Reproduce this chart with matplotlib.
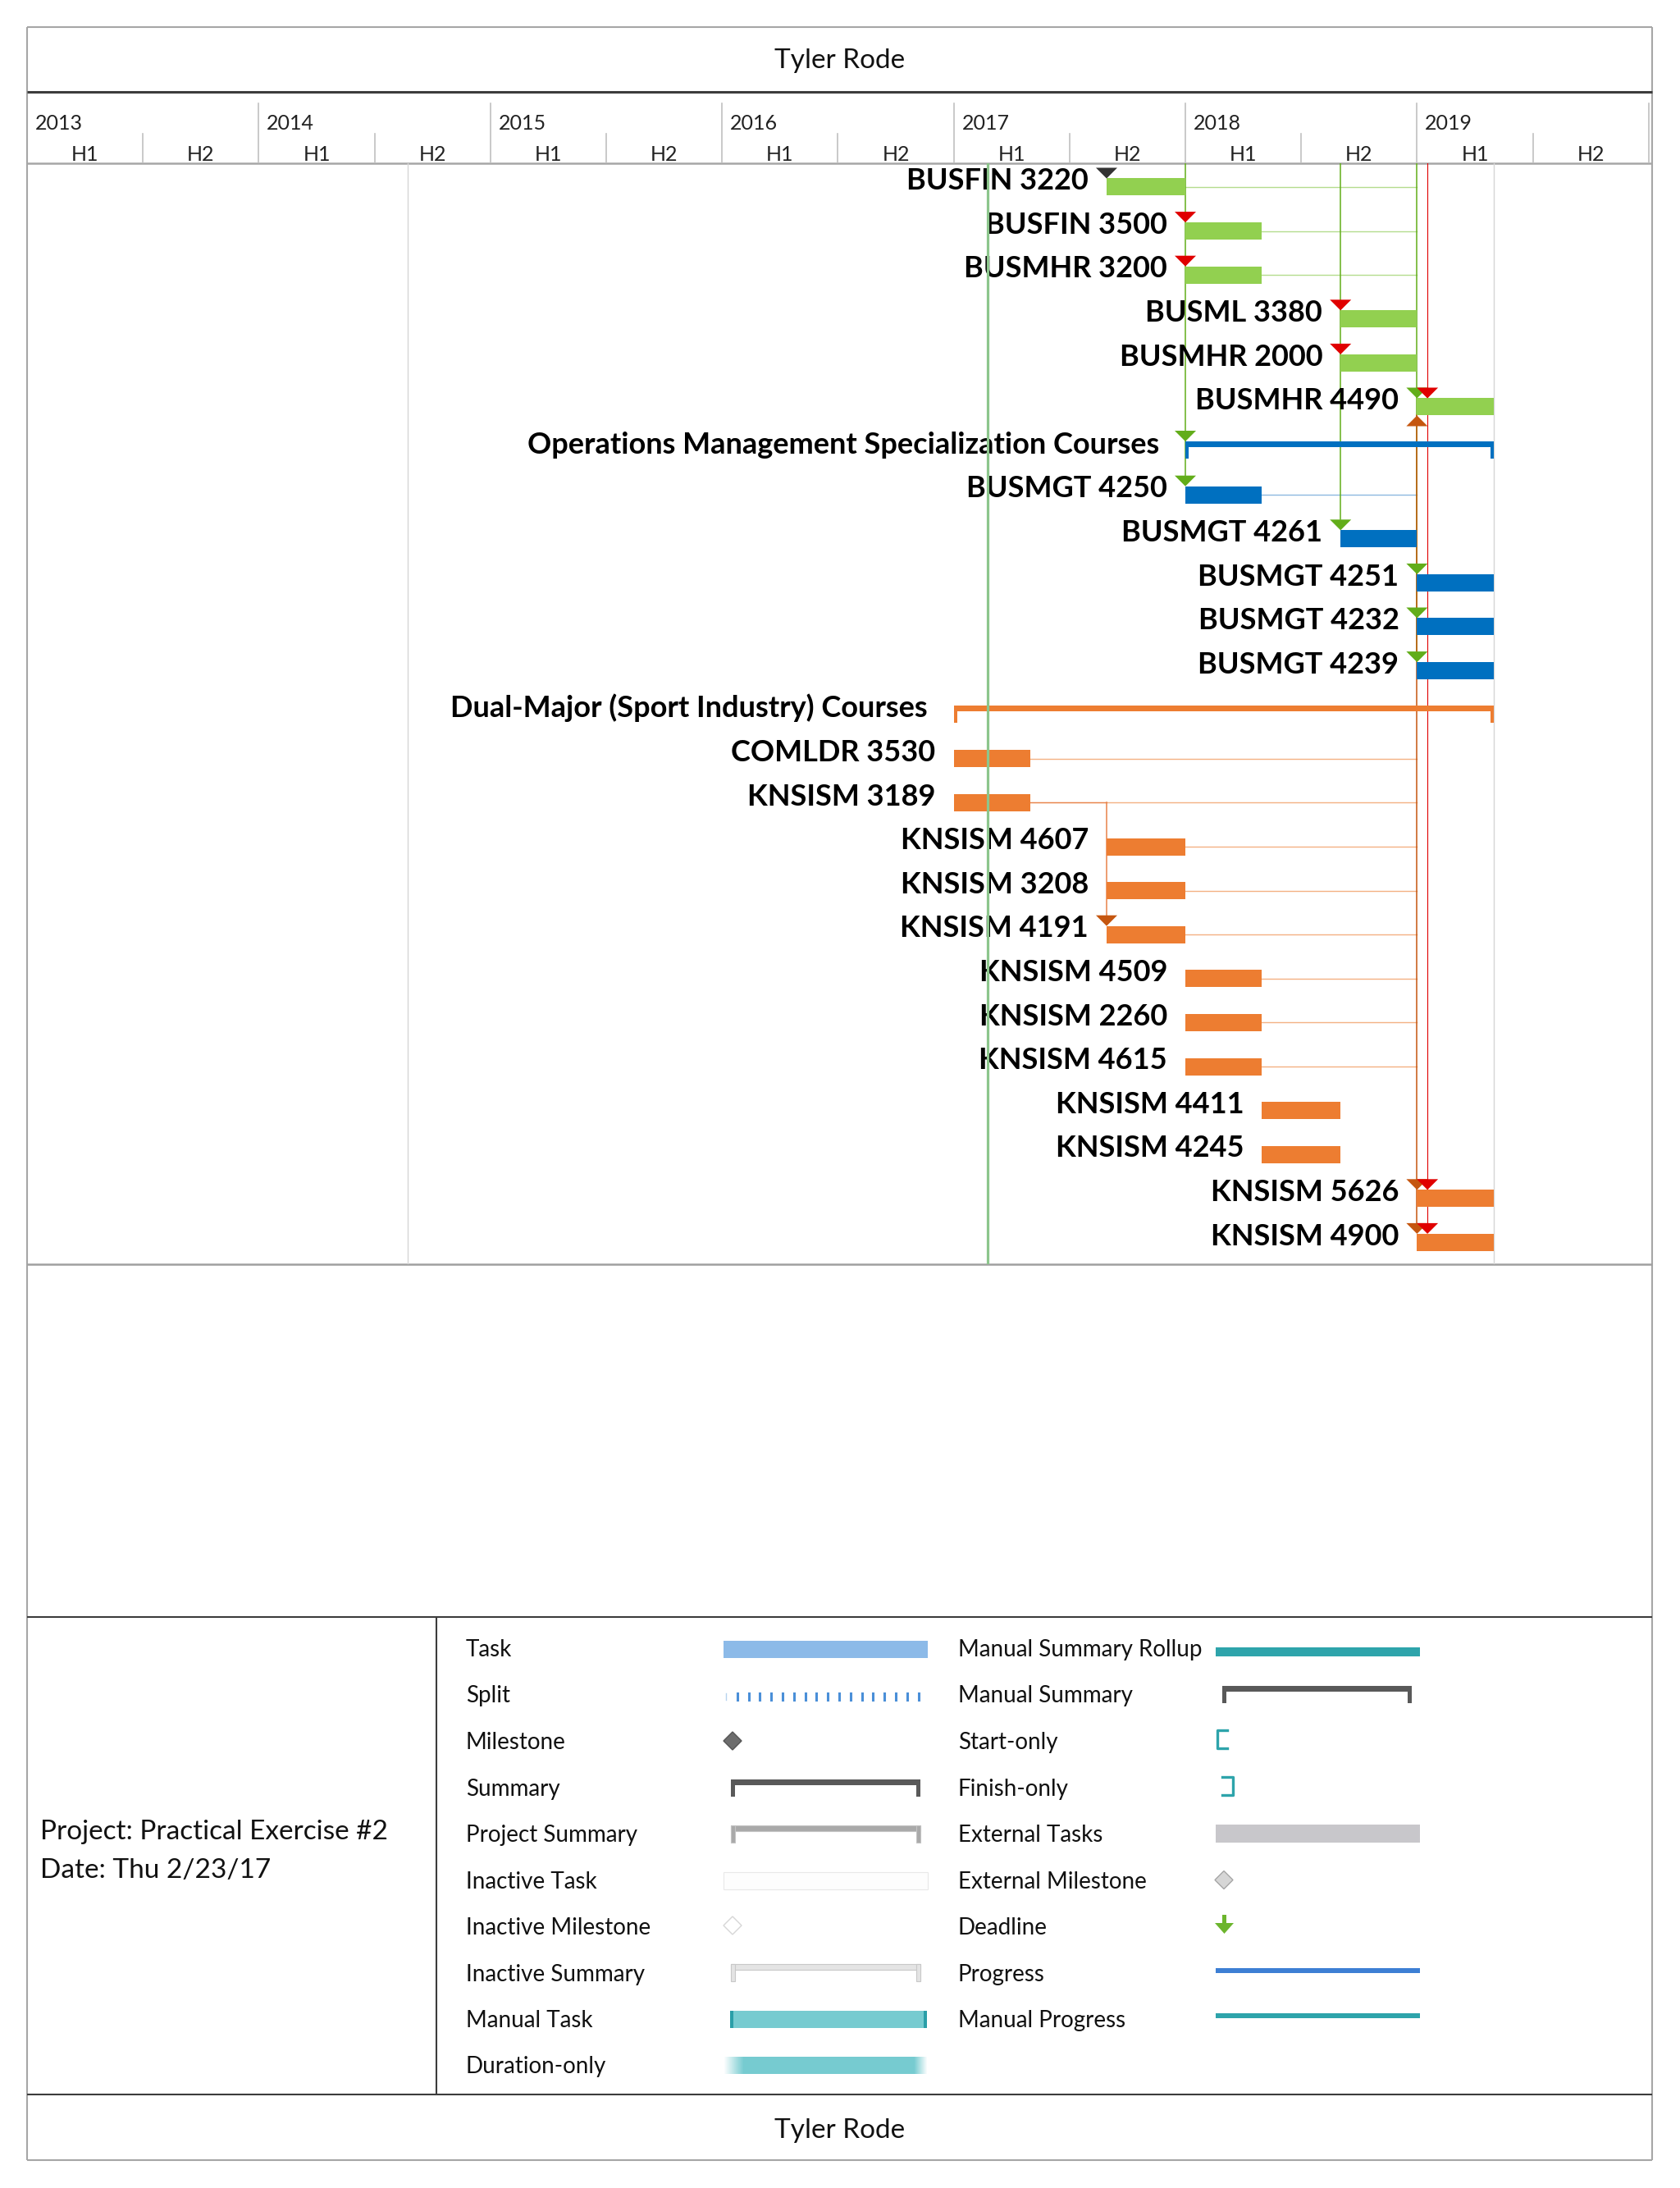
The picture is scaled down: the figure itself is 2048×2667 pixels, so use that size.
import matplotlib
matplotlib.use('Agg')
import matplotlib.pyplot as plt
from matplotlib.patches import Rectangle, Polygon
import numpy as np

plt.rcParams['font.family'] = ['Lato', 'DejaVu Sans']

### data
owner = 'Tyler Rode'
project_txt = 'Project: Practical Exercise #2'
date_txt = 'Date: Thu 2/23/17'
status_date = 2017.145

years = [2013, 2014, 2015, 2016, 2017, 2018, 2019]
halves = ['H1', 'H2']

tasks = ['BUSFIN 3220', 'BUSFIN 3500', 'BUSMHR 3200', 'BUSML 3380', 'BUSMHR 2000', 'BUSMHR 4490',
         'Operations Management Specialization Courses',
         'BUSMGT 4250', 'BUSMGT 4261', 'BUSMGT 4251', 'BUSMGT 4232', 'BUSMGT 4239',
         'Dual-Major (Sport Industry) Courses',
         'COMLDR 3530', 'KNSISM 3189', 'KNSISM 4607', 'KNSISM 3208', 'KNSISM 4191',
         'KNSISM 4509', 'KNSISM 2260', 'KNSISM 4615', 'KNSISM 4411', 'KNSISM 4245',
         'KNSISM 5626', 'KNSISM 4900']
start = [2017.66, 2018.0, 2018.0, 2018.67, 2018.67, 2019.0,
         2018.0, 2018.0, 2018.67, 2019.0, 2019.0, 2019.0,
         2017.0, 2017.0, 2017.0, 2017.66, 2017.66, 2017.66,
         2018.0, 2018.0, 2018.0, 2018.33, 2018.33, 2019.0, 2019.0]
finish = [2018.0, 2018.33, 2018.33, 2019.0, 2019.0, 2019.33,
          2019.33, 2018.33, 2019.0, 2019.33, 2019.33, 2019.33,
          2019.33, 2017.33, 2017.33, 2018.0, 2018.0, 2018.0,
          2018.33, 2018.33, 2018.33, 2018.67, 2018.67, 2019.33, 2019.33]
group = ['bus'] * 6 + ['ops'] * 6 + ['kns'] * 13
summary_rows = [6, 12]

# link lines (bar end -> 2019.0)
link_rows = [0, 1, 2, 7, 13, 14, 15, 16, 17, 18, 19, 20]
link_end = 2019.0

# vertical connector lines
conn_x = [2018.0, 2018.67, 2019.0, 2019.0, 2019.045, 2017.66]
conn_from = [None, None, None, 5, None, 14]
conn_to = [7, 8, 11, 24, 24, 17]
conn_col = ['green', 'green', 'green', 'dkorange', 'red', 'orange']

# link arrowheads
arrow_row = [0, 1, 2, 3, 4, 5, 5, 6, 7, 8, 9, 10, 11, 17, 23, 23, 24, 24]
arrow_x = [2017.66, 2018.0, 2018.0, 2018.67, 2018.67, 2019.0, 2019.045, 2018.0, 2018.0, 2018.67,
           2019.0, 2019.0, 2019.0, 2017.66, 2019.0, 2019.045, 2019.0, 2019.045]
arrow_col = ['black', 'red', 'red', 'red', 'red', 'green', 'red', 'green', 'green', 'green',
             'green', 'green', 'green', 'dkorange', 'dkorange', 'red', 'dkorange', 'red']

legend_left = ['Task', 'Split', 'Milestone', 'Summary', 'Project Summary', 'Inactive Task',
               'Inactive Milestone', 'Inactive Summary', 'Manual Task', 'Duration-only']
legend_right = ['Manual Summary Rollup', 'Manual Summary', 'Start-only', 'Finish-only',
                'External Tasks', 'External Milestone', 'Deadline', 'Progress', 'Manual Progress']

### styles
bar_col = {'bus': '#92d050', 'ops': '#0070c0', 'kns': '#ed7d31'}
link_col = {'bus': '#b4dc8e', 'ops': '#8db8e0', 'kns': '#f4b183'}
mark_col = {'green': '#62ad1a', 'red': '#e00000', 'black': '#333333',
            'dkorange': '#c5560f', 'orange': '#e8834a'}

W, H = 2048, 2667
fig = plt.figure(figsize=(W / 100, H / 100), dpi=100)

bg = fig.add_axes([0, 0, 1, 1])
bg.set_xlim(0, W)
bg.set_ylim(H, 0)
bg.axis('off')

# chart geometry (pixels)
X0, X1 = 33, 2014
YEAR_PX = 282.4
TS_TOP, TS_BOT = 112, 199
CH_BOT = 1541
ROW0, PITCH = 228, 53.6

### frame
def hl(y, x0, x1, c, lw):
    bg.plot([x0, x1], [y, y], color=c, lw=lw, solid_capstyle='butt', zorder=3)

def vl(x, y0, y1, c, lw):
    bg.plot([x, x], [y0, y1], color=c, lw=lw, solid_capstyle='butt', zorder=3)

hl(33, X0, X1, '#a6a6a6', 1.5)
hl(2633, X0, X1, '#a6a6a6', 1.5)
vl(X0, 33, 2633, '#a6a6a6', 1.5)
vl(X1, 33, 2633, '#a6a6a6', 1.5)
hl(TS_TOP, X0, X1, '#3c3c3c', 2.2)
hl(TS_BOT, X0, X1, '#a6a6a6', 1.8)
hl(CH_BOT, X0, X1, '#a0a0a0', 1.8)
hl(1971, X0, X1, '#3c3c3c', 1.5)
hl(2553, X0, X1, '#3c3c3c', 1.5)
vl(532, 1971, 2553, '#3c3c3c', 1.5)

bg.text((X0 + X1) / 2, 74, owner, ha='center', va='center', fontsize=24, color='#111111')
bg.text((X0 + X1) / 2, 2597, owner, ha='center', va='center', fontsize=24, color='#111111')
bg.text(49, 2233, project_txt, ha='left', va='center', fontsize=24, color='#111111')
bg.text(49, 2280, date_txt, ha='left', va='center', fontsize=24, color='#111111')

### timescale
xmax = 2013 + (X1 - X0) / YEAR_PX
ts = fig.add_axes([X0 / W, 1 - TS_BOT / H, (X1 - X0) / W, (TS_BOT - TS_TOP) / H])
ts.set_xlim(2013, xmax)
ts.set_ylim(0, 1)
ts.axis('off')
for yr in years:
    ts.text(yr + 0.035, 0.56, str(yr), ha='left', va='center', fontsize=18, color='#222222')
    for k, h in enumerate(halves):
        ts.text(yr + 0.25 + 0.5 * k, 0.12, h, ha='center', va='center', fontsize=18, color='#222222')
    if yr > 2013:
        ts.plot([yr, yr], [0, 0.84], color='#c0c0c0', lw=1.2)
    ts.plot([yr + 0.5, yr + 0.5], [0, 0.41], color='#c0c0c0', lw=1.2)
ts.plot([years[-1] + 1] * 2, [0, 0.84], color='#c0c0c0', lw=1.2)

### gantt
ax = fig.add_axes([X0 / W, 1 - CH_BOT / H, (X1 - X0) / W, (CH_BOT - TS_BOT) / H])
ax.set_xlim(2013, xmax)
ax.set_ylim((CH_BOT - ROW0) / PITCH, (TS_BOT - ROW0) / PITCH)
ax.axis('off')
ytop = ax.get_ylim()[1]

bh = 21 / PITCH          # bar height in rows
tw = 13 / YEAR_PX        # arrow half width
th = 13 / PITCH          # arrow height

# faint page lines
for x in [2014.643, 2019.33]:
    ax.plot([x, x], [ytop, ax.get_ylim()[0]], color='#d6d6d6', lw=1, zorder=1)

def top_of(r):
    return r - (0.216 if r in summary_rows else bh / 2)

# horizontal links
for r in link_rows:
    ax.plot([finish[r], link_end], [r, r], color=link_col[group[r]], lw=1.0, zorder=2)
ax.plot([finish[14], 2017.66], [14, 14], color=mark_col['orange'], lw=0.9, zorder=2)

# vertical connectors
for x, f, t, c in zip(conn_x, conn_from, conn_to, conn_col):
    y0 = ytop if f is None else (f + bh / 2 if c == 'dkorange' else f)
    y1 = top_of(t) - th
    lw = 0.8 if c == 'red' else 1.1
    ax.plot([x, x], [y0, y1], color=mark_col[c], lw=lw, zorder=2)

# bars and labels
for i, name in enumerate(tasks):
    c = bar_col[group[i]]
    if i in summary_rows:
        ax.add_patch(Rectangle((start[i], i - 0.216), finish[i] - start[i], 7 / PITCH,
                               color=c, lw=0, zorder=3))
        for x in [start[i], finish[i] - 4 / YEAR_PX]:
            ax.add_patch(Rectangle((x, i - 0.216), 4 / YEAR_PX, 0.39, color=c, lw=0, zorder=3))
        gap = 32 / YEAR_PX
    else:
        ax.add_patch(Rectangle((start[i], i - bh / 2), finish[i] - start[i], bh,
                               color=c, lw=0, zorder=3))
        gap = 22 / YEAR_PX
    ax.text(start[i] - gap, i + 0.06, name, ha='right', va='baseline', fontsize=26,
            fontweight='bold', color='#000000', zorder=5)

# arrowheads
for r, x, c in zip(arrow_row, arrow_x, arrow_col):
    yt = top_of(r)
    ax.add_patch(Polygon([(x - tw, yt - th), (x + tw, yt - th), (x, yt)], closed=True,
                         color=mark_col[c], lw=0, zorder=4))
# upward arrow into BUSMHR 4490
yb = 5 + bh / 2
ax.add_patch(Polygon([(2019.0 - tw, yb + th), (2019.0 + tw, yb + th), (2019.0, yb)], closed=True,
                     color=mark_col['dkorange'], lw=0, zorder=4))

# status date line
ax.plot([status_date, status_date], [ytop, ax.get_ylim()[0]], color='#8cc68c', lw=2.3, zorder=6)

### legend
LX1, SX1 = 568, 882
LX2, SX2 = 1168, 1482
SW = 249
LY0, LDY = 2011, 56.5

def ly(i):
    return LY0 + LDY * i

for i, t in enumerate(legend_left):
    bg.text(LX1, ly(i), t, ha='left', va='center', fontsize=20, color='#111111')
for i, t in enumerate(legend_right):
    bg.text(LX2, ly(i), t, ha='left', va='center', fontsize=20, color='#111111')

def rect(x, y, w, h, fc, ec='none', lw=0, z=3):
    bg.add_patch(Rectangle((x, y), w, h, facecolor=fc, edgecolor=ec, lw=lw, zorder=z))

def bracket(x0, x1, y, col, ec=None):
    rect(x0, y - 4, x1 - x0, 7, col, ec if ec else 'none', 0.8 if ec else 0)
    rect(x0, y - 4, 5, 21, col, ec if ec else 'none', 0.8 if ec else 0)
    rect(x1 - 5, y - 4, 5, 21, col, ec if ec else 'none', 0.8 if ec else 0)

def diamond(x, y, fc, ec):
    bg.add_patch(Polygon([(x - 11, y), (x, y - 11), (x + 11, y), (x, y + 11)], closed=True,
                         facecolor=fc, edgecolor=ec, lw=1, zorder=3))

# left column symbols
rect(SX1, ly(0) - 11, SW, 21, '#8cbae8')
for k in range(18):
    bg.plot([SX1 + 3 + k * 13.8] * 2, [ly(1) - 4, ly(1) + 4], color='#4a8fd8',
            lw=2.2 if k else 1.0, alpha=1 if k else 0.4, zorder=3)
diamond(SX1 + 11, ly(2) - 2, '#6d6d6d', '#555555')
bracket(SX1 + 9, SX1 + 240, ly(3) - 8, '#595959')
bracket(SX1 + 9, SX1 + 240, ly(4) - 8, '#a9a9a9', '#c4c4c4')
rect(SX1, ly(5) - 12, SW, 21, '#fdfdfd', '#e8e8e8', 0.8)
diamond(SX1 + 11, ly(6) - 3, '#ffffff', '#d6d6d6')
bracket(SX1 + 9, SX1 + 240, ly(7) - 9, '#e4e4e4', '#c8c8c8')
rect(SX1 + 8, ly(8) - 12, 240, 21, '#76cbd0')
rect(SX1 + 8, ly(8) - 12, 4, 21, '#2a9fa8')
rect(SX1 + 244, ly(8) - 12, 4, 21, '#2a9fa8')
grad = np.ones((1, SW, 4))
grad[0, :, :3] = np.array([0x76, 0xcb, 0xd0]) / 255.0
ramp = np.clip(np.minimum(np.arange(SW) / 24.0, (SW - 1 - np.arange(SW)) / 16.0), 0, 1)
grad[0, :, 3] = ramp
bg.imshow(grad, extent=[SX1, SX1 + SW, ly(9) + 9, ly(9) - 12], aspect='auto', zorder=3)

# right column symbols
rect(SX2, ly(0) - 3, SW, 11, '#2ea4ab')
bracket(SX2 + 8, SX2 + 239, ly(1) - 9, '#595959')
bg.plot([SX2 + 14, SX2 + 2, SX2 + 2, SX2 + 14], [ly(2) - 15, ly(2) - 15, ly(2) + 7, ly(2) + 7],
        color='#2ea4ab', lw=2.4, zorder=3)
bg.plot([SX2 + 8, SX2 + 21, SX2 + 21, SX2 + 8], [ly(3) - 15, ly(3) - 15, ly(3) + 7, ly(3) + 7],
        color='#2ea4ab', lw=2.4, zorder=3)
rect(SX2, ly(4) - 13, SW, 22, '#c8c7cb')
diamond(SX2 + 10, ly(5) - 2, '#d6d6d6', '#a6a6a6')
rect(SX2 + 8, ly(6) - 16, 5, 12, '#6cb52d')
bg.add_patch(Polygon([(SX2 - 1, ly(6) - 6), (SX2 + 22, ly(6) - 6), (SX2 + 10.5, ly(6) + 7)],
                     closed=True, color='#6cb52d', lw=0, zorder=3))
rect(SX2, ly(7) - 8, SW, 6, '#3d7fd4')
rect(SX2, ly(8) - 9, SW, 6, '#2ea4ab')

bg.set_xlim(0, W)
bg.set_ylim(H, 0)

fig.savefig('out.png', dpi=100, facecolor='white')
